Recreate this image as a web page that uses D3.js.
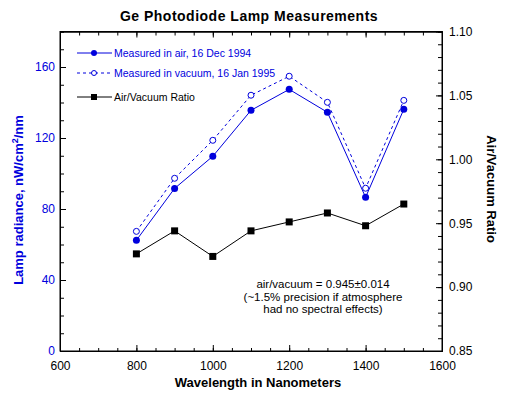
<!DOCTYPE html>
<html>
<head>
<meta charset="utf-8">
<script src="https://cdn.jsdelivr.net/npm/d3@7"></script>
<style>
  body { margin: 0; background: #fff; }
  text { font-family: "Liberation Sans", Arial, sans-serif; }
</style>
</head>
<body>
<div id="chart"></div>
<script>
const wavelengths = [800, 900, 1000, 1100, 1200, 1300, 1400, 1500];
const airValues = [62.4, 91.6, 109.7, 135.6, 147.4, 134.5, 86.6, 136.2];
const vacuumValues = [67.4, 97.3, 118.7, 144.1, 154.8, 140.1, 91.7, 141.2];
const ratioValues = [0.926, 0.944, 0.924, 0.944, 0.951, 0.958, 0.948, 0.965];
const xTicks = [600, 800, 1000, 1200, 1400, 1600];
const leftTicks = [0, 40, 80, 120, 160];
const rightTicks = [0.85, 0.90, 0.95, 1.00, 1.05, 1.10];
const legendLabels = ["Measured in air, 16 Dec 1994", "Measured in vacuum, 16 Jan 1995", "Air/Vacuum Ratio"];
const noteLines = ["air/vacuum = 0.945\u00b10.014", "(~1.5% precision if atmosphere", "had no spectral effects)"];

const blue = "#0000dd";
const W = 513, H = 404;
const m = { left: 60, right: 71, top: 31.5, bottom: 53 };
const iw = W - m.left - m.right, ih = H - m.top - m.bottom;

const svg = d3.select("#chart").append("svg")
  .attr("width", W).attr("height", H);

const plot = svg.append("g").attr("transform", `translate(${m.left},${m.top})`);

const x = d3.scaleLinear().domain([600, 1600]).range([0, iw]);
const yL = d3.scaleLinear().domain([0, 180]).range([ih, 0]);
const yR = d3.scaleLinear().domain([0.85, 1.10]).range([ih, 0]);

// minor ticks (inside)
plot.append("g").attr("transform", `translate(0,${ih})`)
  .call(d3.axisBottom(x).tickValues(d3.range(600, 1601, 50)).tickSize(-3).tickFormat(""));
plot.append("g")
  .call(d3.axisTop(x).tickValues(d3.range(600, 1601, 50)).tickSize(-4).tickFormat(""));
plot.append("g")
  .call(d3.axisLeft(yL).tickValues(d3.range(0, 181, 10)).tickSize(-4).tickFormat(""));
plot.append("g").attr("transform", `translate(${iw},0)`)
  .call(d3.axisRight(yR).tickValues(d3.range(0, 26).map(i => 0.85 + i * 0.01)).tickSize(-4).tickFormat(""));

// major ticks with labels
plot.append("g").attr("transform", `translate(0,${ih})`)
  .call(d3.axisBottom(x).tickValues(xTicks).tickSizeInner(-6).tickSizeOuter(0).tickPadding(10).tickFormat(d3.format("d")));
plot.append("g")
  .call(d3.axisTop(x).tickValues(xTicks).tickSizeInner(-6).tickSizeOuter(0).tickFormat(""));
const gl = plot.append("g")
  .call(d3.axisLeft(yL).tickValues(leftTicks).tickSizeInner(-6).tickSizeOuter(0).tickPadding(5).tickFormat(d3.format("d")));
plot.append("g").attr("transform", `translate(${iw},0)`)
  .call(d3.axisRight(yR).tickValues(rightTicks).tickSizeInner(-6).tickSizeOuter(0).tickPadding(7).tickFormat(d3.format(".2f")));

plot.selectAll(".domain").attr("stroke", "#000");
plot.selectAll(".tick line").attr("stroke", "#000");
plot.selectAll(".tick text").style("font-size", "12px").attr("fill", "#000");
gl.selectAll(".tick text").attr("fill", blue);

// frame
plot.append("rect").attr("width", iw).attr("height", ih)
  .attr("fill", "none").attr("stroke", "#000");

const radLine = d3.line().x((d, i) => x(wavelengths[i])).y(d => yL(d));
const ratioLine = d3.line().x((d, i) => x(wavelengths[i])).y(d => yR(d));

plot.append("path").datum(vacuumValues).attr("d", radLine)
  .attr("fill", "none").attr("stroke", blue).attr("stroke-dasharray", "3,3");
plot.append("path").datum(airValues).attr("d", radLine)
  .attr("fill", "none").attr("stroke", blue);
plot.append("path").datum(ratioValues).attr("d", ratioLine)
  .attr("fill", "none").attr("stroke", "#000");

plot.selectAll(".vac").data(vacuumValues).join("circle")
  .attr("cx", (d, i) => x(wavelengths[i])).attr("cy", d => yL(d))
  .attr("r", 3).attr("fill", "#fff").attr("stroke", blue);
plot.selectAll(".air").data(airValues).join("circle")
  .attr("cx", (d, i) => x(wavelengths[i])).attr("cy", d => yL(d))
  .attr("r", 3.5).attr("fill", blue);
plot.selectAll(".rat").data(ratioValues).join("rect")
  .attr("x", (d, i) => x(wavelengths[i]) - 3.5).attr("y", d => yR(d) - 3.5)
  .attr("width", 7).attr("height", 7).attr("fill", "#000");

// legend
const legend = svg.append("g");
const legendY = [53, 73, 97];
legendLabels.forEach((label, i) => {
  const g = legend.append("g").attr("transform", `translate(77,${legendY[i]})`);
  const col = i < 2 ? blue : "#000";
  g.append("line").attr("x1", 0).attr("x2", 35).attr("stroke", col)
    .attr("stroke-dasharray", i === 1 ? "3,3" : null);
  if (i === 0) g.append("circle").attr("cx", 17).attr("r", 3).attr("fill", blue);
  if (i === 1) g.append("circle").attr("cx", 17).attr("r", 2.5).attr("fill", "#fff").attr("stroke", blue);
  if (i === 2) g.append("rect").attr("x", 14).attr("y", -3).attr("width", 6).attr("height", 6).attr("fill", "#000");
  g.append("text").attr("x", 37).attr("y", 4).attr("fill", col)
    .style("font-size", "10.5px").text(label);
});

// annotation
svg.append("g").selectAll("text").data(noteLines).join("text")
  .attr("x", 323).attr("y", (d, i) => 288 + i * 12.5)
  .attr("text-anchor", "middle").style("font-size", "11.5px").text(d => d);

// titles
svg.append("text").attr("x", 249).attr("y", 21).attr("text-anchor", "middle")
  .style("font-size", "14px").style("font-weight", "bold").style("letter-spacing", "0.5px")
  .text("Ge Photodiode Lamp Measurements");
svg.append("text").attr("x", 258).attr("y", 387).attr("text-anchor", "middle")
  .style("font-size", "13px").style("font-weight", "bold").text("Wavelength in Nanometers");
svg.append("text").attr("transform", "translate(23,200) rotate(-90)").attr("text-anchor", "middle")
  .attr("fill", blue).style("font-size", "13px").style("font-weight", "bold")
  .html('Lamp radiance, nW/cm<tspan baseline-shift="super" font-size="9px">2</tspan>/nm');
svg.append("text").attr("transform", "translate(487,189) rotate(90)").attr("text-anchor", "middle")
  .style("font-size", "13px").style("font-weight", "bold").text("Air/Vacuum Ratio");
</script>
</body>
</html>
